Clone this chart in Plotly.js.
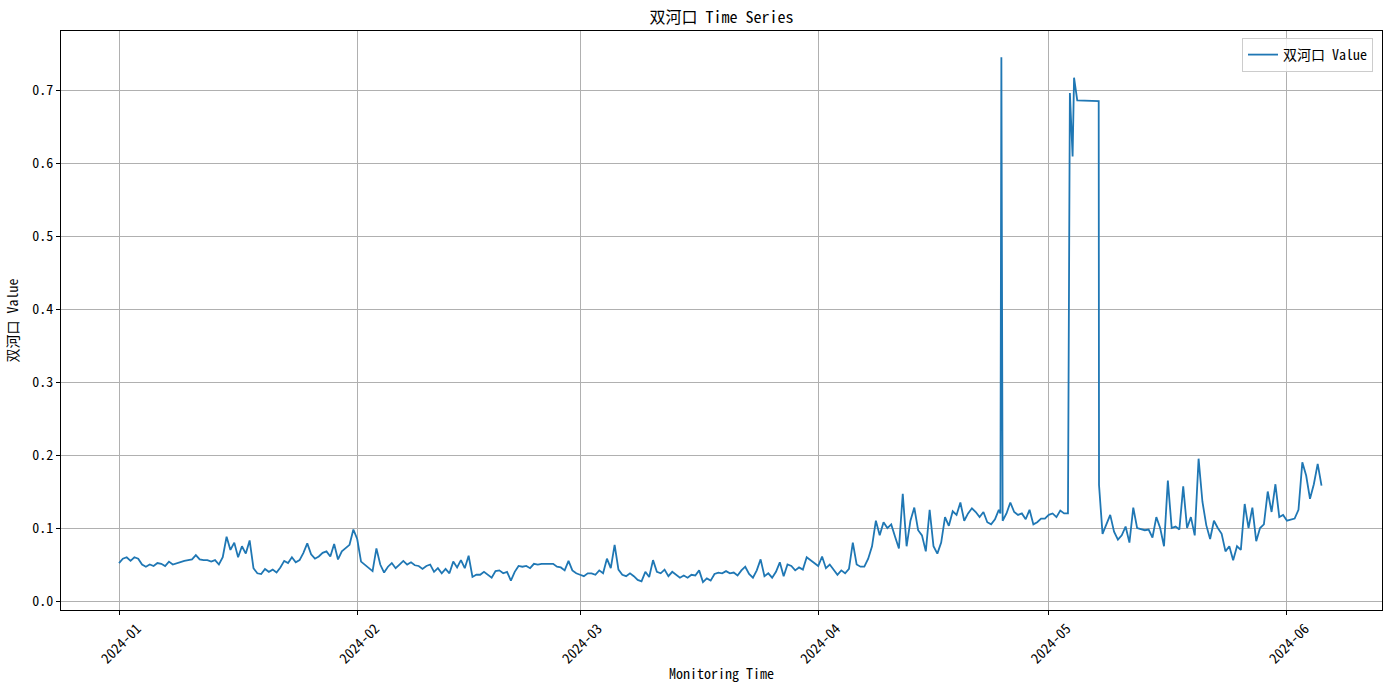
<!DOCTYPE html>
<html><head><meta charset="utf-8">
<script src="https://cdn.plot.ly/plotly-3.0.1.min.js"></script>
<style>html,body{margin:0;padding:0;background:#fff}#chart{width:1389px;height:690px}</style>
</head><body><div id="chart"></div>
<script>
const seriesName = '双河口 Value';
const chartTitle = '双河口 Time Series';
const xTitle = 'Monitoring Time';
const yTitle = '双河口 Value';
const startTime = '2024-01-01 00:00';
const stepHours = 12;

const valuesJan = [0.052,0.058,0.06,0.055,0.06,0.058,0.05,0.047,0.05,0.048,
 0.052,0.051,0.048,0.054,0.05,0.052,0.053,0.055,0.056,0.057,
 0.063,0.057,0.056,0.056,0.054,0.056,0.05,0.06,0.088,0.07,
 0.08,0.06,0.075,0.065,0.083,0.045,0.038,0.037,0.044,0.04,
 0.043,0.039,0.046,0.055,0.052,0.06,0.053,0.056,0.066,0.079,
 0.064,0.058,0.061,0.066,0.068,0.061,0.078,0.057,0.068,0.072,
 0.077,0.098];
const valuesFeb = [0.085,0.054,0.05,0.046,0.041,0.072,0.05,0.039,0.047,0.052,
 0.045,0.05,0.055,0.05,0.053,0.049,0.048,0.044,0.048,0.05,
 0.04,0.045,0.038,0.044,0.038,0.054,0.046,0.056,0.045,0.062,
 0.033,0.036,0.036,0.04,0.036,0.032,0.041,0.042,0.038,0.04,
 0.028,0.04,0.048,0.047,0.048,0.045,0.051,0.05,0.051,0.051,
 0.052,0.051,0.047,0.046,0.042,0.055,0.042,0.038];
const valuesMar = [0.036,0.034,0.038,0.038,0.036,0.042,0.038,0.058,0.045,0.077,
 0.043,0.036,0.034,0.038,0.034,0.029,0.027,0.04,0.033,0.056,
 0.04,0.038,0.043,0.034,0.04,0.036,0.032,0.035,0.032,0.036,
 0.035,0.042,0.026,0.031,0.028,0.037,0.039,0.038,0.041,0.038,
 0.039,0.035,0.042,0.047,0.037,0.032,0.042,0.057,0.034,0.038,
 0.032,0.04,0.053,0.034,0.05,0.048,0.042,0.046,0.043,0.06,
 null,null];
const valuesApr = [0.048,0.061,0.045,0.05,0.043,0.036,0.042,0.038,0.044,0.08,
 0.05,0.047,0.047,0.058,0.075,0.11,0.09,0.108,0.1,0.105,
 0.088,0.072,0.147,0.075,0.11,0.128,0.097,0.09,0.068,0.125,
 0.075,0.065,0.08,0.115,0.103,0.123,0.118,0.135,0.11,0.12,
 0.127,0.122,0.115,0.122,0.108,0.105,0.112,0.125,0.11,0.12,
 0.135,0.122,0.118,0.12,0.112,0.125,0.105,0.108,0.113,0.113];
const valuesMay = [0.118,0.12,0.115,0.124,0.12,0.12,null,null,null,null,
 null,null,null,null,0.092,0.106,0.118,0.095,
 0.084,0.09,0.102,0.08,0.128,0.1,0.098,0.097,0.098,0.087,
 0.115,0.1,0.075,0.165,0.1,0.102,0.098,0.157,0.1,0.115,
 0.09,0.195,0.136,0.104,0.085,0.11,0.1,0.092,0.068,0.075,
 0.056,0.075,0.07,0.133,0.1,0.128,0.082,0.1,0.105,0.15,
 0.122,0.16,0.115,0.118];
const valuesJun = [0.11,0.112,0.113,0.125,0.19,0.172,0.14,0.16,0.188,0.158];

// extra readings between the regular samples (spikes)
const extraTimes = ['2024-04-24 17:00','2024-04-24 20:00',
 '2024-05-03 18:00','2024-05-04 02:30','2024-05-04 07:00','2024-05-04 17:00',
 '2024-05-07 12:00','2024-05-07 13:00'];
const extraValues = [0.12,0.745,
 0.696,0.609,0.717,0.686,
 0.685,0.159];

function toMs(s){ return Date.parse(s.replace(' ','T')+':00Z'); }
function fmt(ms){ return new Date(ms).toISOString().slice(0,19).replace('T',' '); }

const grid = [].concat(valuesJan, valuesFeb, valuesMar, valuesApr, valuesMay, valuesJun);
const t0 = toMs(startTime);
const pts = grid.map((v,i)=>({t: t0 + i*stepHours*3600000, v: v}));
extraTimes.forEach((s,k)=>pts.push({t: toMs(s), v: extraValues[k]}));
pts.sort((a,b)=>a.t-b.t);

const fam = "'Noto Sans Mono CJK SC', 'Noto Sans CJK SC', 'DejaVu Sans Mono', monospace";

const trace = {
  x: pts.map(p=>fmt(p.t)),
  y: pts.map(p=>p.v),
  type:'scatter', mode:'lines', name: seriesName,
  connectgaps:true, showlegend:true,
  line:{color:'#1f77b4', width:1.8}
};

const layout = {
  width:1389, height:690,
  margin:{l:61, r:7, t:31, b:80},
  paper_bgcolor:'#ffffff', plot_bgcolor:'#ffffff',
  font:{family:fam, size:14, color:'#000'},
  title:{text:chartTitle, x:0.5, xref:'paper', xanchor:'center', y:1-17/690, yref:'container', yanchor:'middle', font:{family:fam, size:16, color:'#000'}},
  xaxis:{type:'date', range:['2023-12-24 10:48','2024-06-13 08:53'], tickformat:'%Y-%m', dtick:'M1', tick0:'2024-01-01',
    tickangle:-45, ticklabelshift:18, showgrid:true, gridcolor:'#b0b0b0', gridwidth:1, showline:true, mirror:true, linecolor:'#000', linewidth:1,
    ticks:'outside', ticklen:4, tickcolor:'#000', zeroline:false, automargin:false,
    tickfont:{family:fam, size:14}},
  yaxis:{range:[-0.0123,0.781], dtick:0.1, tick0:0, tickformat:'.1f', showgrid:true, gridcolor:'#b0b0b0', gridwidth:1,
    showline:true, mirror:true, linecolor:'#000', linewidth:1, ticks:'outside', ticklen:4, tickcolor:'#000', zeroline:false,
    automargin:false, tickfont:{family:fam, size:14}, title:{text:yTitle, standoff:10, font:{family:fam, size:14}}},
  annotations:[{text:xTitle, xref:'paper', yref:'paper', x:0.5, y:0, xanchor:'center', yanchor:'middle', yshift:-63,
    showarrow:false, font:{family:fam, size:14, color:'#000'}}],
  legend:{x:1-9/1321, xanchor:'right', y:1-7/579, yanchor:'top', bordercolor:'#cccccc', borderwidth:1, bgcolor:'rgba(255,255,255,0.8)', font:{family:fam, size:14}},
  showlegend:true
};
Plotly.newPlot('chart',[trace],layout,{displayModeBar:false, staticPlot:true});
</script></body></html>
